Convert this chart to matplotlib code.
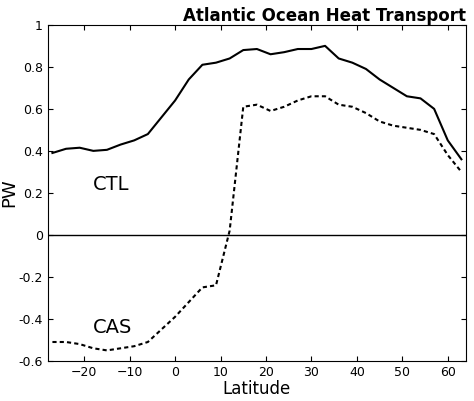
import matplotlib.pyplot as plt

lat = [-27, -24, -21, -18, -15, -12, -9, -6, -3, 0, 3, 6, 9, 12, 15, 18, 21, 24, 27, 30,
       33, 36, 39, 42, 45, 48, 51, 54, 57, 60, 63]
ctl = [0.39, 0.41, 0.415, 0.40, 0.405, 0.43, 0.45, 0.48, 0.56, 0.64, 0.74, 0.81, 0.82, 0.84,
       0.88, 0.885, 0.86, 0.87, 0.885, 0.885, 0.90, 0.84, 0.82, 0.79, 0.74, 0.70, 0.66, 0.65,
       0.60, 0.45, 0.36]
cas = [-0.51, -0.51, -0.52, -0.54, -0.55, -0.54, -0.53, -0.51, -0.45, -0.39, -0.32, -0.25,
       -0.24, 0.02, 0.61, 0.62, 0.59, 0.61, 0.64, 0.66, 0.66, 0.62, 0.61, 0.58, 0.54, 0.52,
       0.51, 0.50, 0.48, 0.38, 0.30]

fig = plt.figure(figsize=(4.74, 4.01), dpi=100)
ax = fig.add_axes([0.101, 0.1, 0.882, 0.838])

ax.plot(lat, ctl, color="black", lw=1.5)
ax.plot(lat, cas, color="black", lw=1.5, linestyle=(0, (2, 1.5)))
ax.axhline(0, color="black", lw=1)

ax.text(-18, 0.24, "CTL", fontsize=14, ha="left", va="center")
ax.text(-18, -0.44, "CAS", fontsize=14, ha="left", va="center")

ax.set_xlim(-28, 64)
ax.set_ylim(-0.6, 1)
ax.set_xticks([-20, -10, 0, 10, 20, 30, 40, 50, 60])
ax.set_yticks([-0.6, -0.4, -0.2, 0, 0.2, 0.4, 0.6, 0.8, 1])
ax.set_yticklabels(["-0.6", "-0.4", "-0.2", "0", "0.2", "0.4", "0.6", "0.8", "1"])
ax.tick_params(direction="in", labelsize=9, top=True, right=True)
ax.set_xlabel("Latitude", fontsize=12, labelpad=1)
ax.set_ylabel("PW", fontsize=13, labelpad=0)
ax.set_title("Atlantic Ocean Heat Transport", fontsize=12, fontweight="bold",
             loc="right", pad=3)

plt.savefig("out.png", dpi=100)
